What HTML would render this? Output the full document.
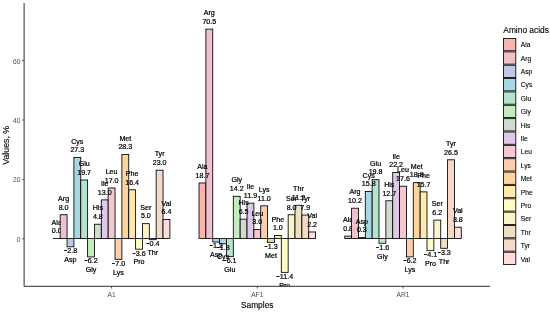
<!DOCTYPE html>
<html><head><meta charset="utf-8"><title>Amino acids</title>
<style>
html,body{margin:0;padding:0;background:#fff;}
body{width:550px;height:312px;overflow:hidden;}
svg{display:block;}
text{font-family:"Liberation Sans",Arial,Helvetica,sans-serif;}
.lab{font-size:7.1px;fill:#000;text-anchor:middle;stroke:#000;stroke-width:0.22px;}
.mn{font-size:10.5px;}
.tick{font-size:6.7px;fill:#4D4D4D;}
.ttl{font-size:8.4px;fill:#000;stroke:#000;stroke-width:0.12px;}
.leg{font-size:6.7px;fill:#000;stroke:#000;stroke-width:0.1px;}
</style></head>
<body>
<svg width="550" height="312" viewBox="0 0 550 312">
<rect x="0" y="0" width="550" height="312" fill="#FFFFFF"/>
<defs><clipPath id="panel"><rect x="24.4" y="4.2" width="465.6" height="282.2"/></clipPath></defs>
<g clip-path="url(#panel)">
<text class="lab" x="56.75" y="224.60">Ala</text><text class="lab" x="56.75" y="233.30">0.0</text>
<text class="lab" x="348.15" y="222.22">Ala</text><text class="lab" x="348.15" y="230.92">0.8</text>
<path d="M52.89 238.50H60.60" stroke="#000" stroke-width="0.85"/>
<rect x="60.18" y="214.74" width="6.86" height="23.76" fill="#EEC2CA" stroke="#000" stroke-width="0.85"/>
<rect x="67.03" y="238.50" width="6.86" height="8.32" fill="#BECAE4" stroke="#000" stroke-width="0.85"/>
<rect x="73.89" y="157.42" width="6.86" height="81.08" fill="#A8D8E4" stroke="#000" stroke-width="0.85"/>
<rect x="80.75" y="179.99" width="6.86" height="58.51" fill="#B4E4CC" stroke="#000" stroke-width="0.85"/>
<rect x="87.60" y="238.50" width="6.86" height="18.41" fill="#C4ECC0" stroke="#000" stroke-width="0.85"/>
<rect x="94.46" y="224.24" width="6.86" height="14.26" fill="#D0DCD0" stroke="#000" stroke-width="0.85"/>
<rect x="101.32" y="199.89" width="6.86" height="38.61" fill="#E0C8E8" stroke="#000" stroke-width="0.85"/>
<rect x="108.17" y="188.01" width="6.86" height="50.49" fill="#F4C8D0" stroke="#000" stroke-width="0.85"/>
<rect x="115.03" y="238.50" width="6.86" height="20.79" fill="#FDCDB0" stroke="#000" stroke-width="0.85"/>
<rect x="121.88" y="154.45" width="6.86" height="84.05" fill="#FDD59C" stroke="#000" stroke-width="0.85"/>
<rect x="128.74" y="189.79" width="6.86" height="48.71" fill="#FEE8AC" stroke="#000" stroke-width="0.85"/>
<rect x="135.60" y="238.50" width="6.86" height="10.69" fill="#FFFBC4" stroke="#000" stroke-width="0.85"/>
<rect x="142.45" y="223.65" width="6.86" height="14.85" fill="#FBF3C8" stroke="#000" stroke-width="0.85"/>
<rect x="149.31" y="238.50" width="6.86" height="1.19" fill="#EEE0C4" stroke="#000" stroke-width="0.85"/>
<rect x="156.17" y="170.19" width="6.86" height="68.31" fill="#F4D8C8" stroke="#000" stroke-width="0.85"/>
<rect x="163.02" y="219.49" width="6.86" height="19.01" fill="#FDDCDC" stroke="#000" stroke-width="0.85"/>
<rect x="199.02" y="182.96" width="6.86" height="55.54" fill="#FBB4AE" stroke="#000" stroke-width="0.85"/>
<rect x="205.88" y="29.11" width="6.86" height="209.39" fill="#EEC2CA" stroke="#000" stroke-width="0.85"/>
<rect x="212.73" y="238.50" width="6.86" height="3.56" fill="#BECAE4" stroke="#000" stroke-width="0.85"/>
<rect x="219.59" y="238.50" width="6.86" height="5.35" fill="#A8D8E4" stroke="#000" stroke-width="0.85"/>
<rect x="226.45" y="238.50" width="6.86" height="18.12" fill="#B4E4CC" stroke="#000" stroke-width="0.85"/>
<rect x="233.30" y="196.33" width="6.86" height="42.17" fill="#C4ECC0" stroke="#000" stroke-width="0.85"/>
<rect x="240.16" y="219.19" width="6.86" height="19.30" fill="#D0DCD0" stroke="#000" stroke-width="0.85"/>
<rect x="247.02" y="203.16" width="6.86" height="35.34" fill="#E0C8E8" stroke="#000" stroke-width="0.85"/>
<rect x="253.87" y="229.59" width="6.86" height="8.91" fill="#F4C8D0" stroke="#000" stroke-width="0.85"/>
<rect x="260.73" y="205.83" width="6.86" height="32.67" fill="#FDCDB0" stroke="#000" stroke-width="0.85"/>
<rect x="267.58" y="238.50" width="6.86" height="3.86" fill="#FDD59C" stroke="#000" stroke-width="0.85"/>
<rect x="274.44" y="235.53" width="6.86" height="2.97" fill="#FEE8AC" stroke="#000" stroke-width="0.85"/>
<rect x="281.30" y="238.50" width="6.86" height="33.86" fill="#FFFBC4" stroke="#000" stroke-width="0.85"/>
<rect x="288.15" y="214.74" width="6.86" height="23.76" fill="#FBF3C8" stroke="#000" stroke-width="0.85"/>
<rect x="295.01" y="205.24" width="6.86" height="33.26" fill="#EEE0C4" stroke="#000" stroke-width="0.85"/>
<rect x="301.87" y="215.04" width="6.86" height="23.46" fill="#F4D8C8" stroke="#000" stroke-width="0.85"/>
<rect x="308.72" y="231.97" width="6.86" height="6.53" fill="#FDDCDC" stroke="#000" stroke-width="0.85"/>
<rect x="344.72" y="236.12" width="6.86" height="2.38" fill="#FBB4AE" stroke="#000" stroke-width="0.85"/>
<rect x="351.58" y="208.21" width="6.86" height="30.29" fill="#EEC2CA" stroke="#000" stroke-width="0.85"/>
<rect x="358.43" y="237.61" width="6.86" height="0.89" fill="#BECAE4" stroke="#000" stroke-width="0.85"/>
<rect x="365.29" y="191.57" width="6.86" height="46.93" fill="#A8D8E4" stroke="#000" stroke-width="0.85"/>
<rect x="372.15" y="179.69" width="6.86" height="58.81" fill="#B4E4CC" stroke="#000" stroke-width="0.85"/>
<rect x="379.00" y="238.50" width="6.86" height="4.75" fill="#C4ECC0" stroke="#000" stroke-width="0.85"/>
<rect x="385.86" y="200.78" width="6.86" height="37.72" fill="#D0DCD0" stroke="#000" stroke-width="0.85"/>
<rect x="392.72" y="172.57" width="6.86" height="65.93" fill="#E0C8E8" stroke="#000" stroke-width="0.85"/>
<rect x="399.57" y="186.23" width="6.86" height="52.27" fill="#F4C8D0" stroke="#000" stroke-width="0.85"/>
<rect x="406.43" y="238.50" width="6.86" height="18.41" fill="#FDCDB0" stroke="#000" stroke-width="0.85"/>
<rect x="413.28" y="182.66" width="6.86" height="55.84" fill="#FDD59C" stroke="#000" stroke-width="0.85"/>
<rect x="420.14" y="191.87" width="6.86" height="46.63" fill="#FEE8AC" stroke="#000" stroke-width="0.85"/>
<rect x="427.00" y="238.50" width="6.86" height="12.18" fill="#FFFBC4" stroke="#000" stroke-width="0.85"/>
<rect x="433.85" y="220.09" width="6.86" height="18.41" fill="#FBF3C8" stroke="#000" stroke-width="0.85"/>
<rect x="440.71" y="238.50" width="6.86" height="9.80" fill="#EEE0C4" stroke="#000" stroke-width="0.85"/>
<rect x="447.57" y="159.80" width="6.86" height="78.70" fill="#F4D8C8" stroke="#000" stroke-width="0.85"/>
<rect x="454.42" y="227.21" width="6.86" height="11.29" fill="#FDDCDC" stroke="#000" stroke-width="0.85"/>
<text class="lab" x="63.60" y="200.84">Arg</text><text class="lab" x="63.60" y="209.54">8.0</text>
<text class="lab" x="70.46" y="262.12">Asp</text><text class="lab" x="70.46" y="253.22"><tspan class="mn">-</tspan>2.8</text>
<text class="lab" x="77.32" y="143.52">Cys</text><text class="lab" x="77.32" y="152.22">27.3</text>
<text class="lab" x="84.17" y="166.09">Glu</text><text class="lab" x="84.17" y="174.79">19.7</text>
<text class="lab" x="91.03" y="272.21">Gly</text><text class="lab" x="91.03" y="263.31"><tspan class="mn">-</tspan>6.2</text>
<text class="lab" x="97.89" y="210.34">His</text><text class="lab" x="97.89" y="219.04">4.8</text>
<text class="lab" x="104.74" y="185.99">Ile</text><text class="lab" x="104.74" y="194.69">13.0</text>
<text class="lab" x="111.60" y="174.11">Leu</text><text class="lab" x="111.60" y="182.81">17.0</text>
<text class="lab" x="118.46" y="274.59">Lys</text><text class="lab" x="118.46" y="265.69"><tspan class="mn">-</tspan>7.0</text>
<text class="lab" x="125.31" y="140.55">Met</text><text class="lab" x="125.31" y="149.25">28.3</text>
<text class="lab" x="132.17" y="175.89">Phe</text><text class="lab" x="132.17" y="184.59">16.4</text>
<text class="lab" x="139.03" y="264.49">Pro</text><text class="lab" x="139.03" y="255.59"><tspan class="mn">-</tspan>3.6</text>
<text class="lab" x="145.88" y="209.75">Ser</text><text class="lab" x="145.88" y="218.45">5.0</text>
<text class="lab" x="152.74" y="254.99">Thr</text><text class="lab" x="152.74" y="246.09"><tspan class="mn">-</tspan>0.4</text>
<text class="lab" x="159.60" y="156.29">Tyr</text><text class="lab" x="159.60" y="164.99">23.0</text>
<text class="lab" x="166.45" y="205.59">Val</text><text class="lab" x="166.45" y="214.29">6.4</text>
<text class="lab" x="202.45" y="169.06">Ala</text><text class="lab" x="202.45" y="177.76">18.7</text>
<text class="lab" x="209.30" y="15.21">Arg</text><text class="lab" x="209.30" y="23.91">70.5</text>
<text class="lab" x="216.16" y="257.36">Asp</text><text class="lab" x="216.16" y="248.46"><tspan class="mn">-</tspan>1.2</text>
<text class="lab" x="223.02" y="259.15">Cys</text><text class="lab" x="223.02" y="250.25"><tspan class="mn">-</tspan>1.8</text>
<text class="lab" x="229.87" y="271.92">Glu</text><text class="lab" x="229.87" y="263.02"><tspan class="mn">-</tspan>6.1</text>
<text class="lab" x="236.73" y="182.43">Gly</text><text class="lab" x="236.73" y="191.13">14.2</text>
<text class="lab" x="243.59" y="205.29">His</text><text class="lab" x="243.59" y="214.00">6.5</text>
<text class="lab" x="250.44" y="189.26">Ile</text><text class="lab" x="250.44" y="197.96">11.9</text>
<text class="lab" x="257.30" y="215.69">Leu</text><text class="lab" x="257.30" y="224.39">3.0</text>
<text class="lab" x="264.16" y="191.93">Lys</text><text class="lab" x="264.16" y="200.63">11.0</text>
<text class="lab" x="271.01" y="257.66">Met</text><text class="lab" x="271.01" y="248.76"><tspan class="mn">-</tspan>1.3</text>
<text class="lab" x="277.87" y="221.63">Phe</text><text class="lab" x="277.87" y="230.33">1.0</text>
<text class="lab" x="284.73" y="287.66">Pro</text><text class="lab" x="284.73" y="278.76"><tspan class="mn">-</tspan>11.4</text>
<text class="lab" x="291.58" y="200.84">Ser</text><text class="lab" x="291.58" y="209.54">8.0</text>
<text class="lab" x="298.44" y="191.34">Thr</text><text class="lab" x="298.44" y="200.04">11.2</text>
<text class="lab" x="305.30" y="201.14">Tyr</text><text class="lab" x="305.30" y="209.84">7.9</text>
<text class="lab" x="312.15" y="218.07">Val</text><text class="lab" x="312.15" y="226.77">2.2</text>
<text class="lab" x="355.00" y="194.31">Arg</text><text class="lab" x="355.00" y="203.01">10.2</text>
<text class="lab" x="361.86" y="223.71">Asp</text><text class="lab" x="361.86" y="232.41">0.3</text>
<text class="lab" x="368.72" y="177.67">Cys</text><text class="lab" x="368.72" y="186.37">15.8</text>
<text class="lab" x="375.57" y="165.79">Glu</text><text class="lab" x="375.57" y="174.49">19.8</text>
<text class="lab" x="382.43" y="258.55">Gly</text><text class="lab" x="382.43" y="249.65"><tspan class="mn">-</tspan>1.6</text>
<text class="lab" x="389.29" y="186.88">His</text><text class="lab" x="389.29" y="195.58">12.7</text>
<text class="lab" x="396.14" y="158.67">Ile</text><text class="lab" x="396.14" y="167.37">22.2</text>
<text class="lab" x="403.00" y="172.33">Leu</text><text class="lab" x="403.00" y="181.03">17.6</text>
<text class="lab" x="409.86" y="272.21">Lys</text><text class="lab" x="409.86" y="263.31"><tspan class="mn">-</tspan>6.2</text>
<text class="lab" x="416.71" y="168.76">Met</text><text class="lab" x="416.71" y="177.46">18.8</text>
<text class="lab" x="423.57" y="177.97">Phe</text><text class="lab" x="423.57" y="186.67">15.7</text>
<text class="lab" x="430.43" y="265.98">Pro</text><text class="lab" x="430.43" y="257.08"><tspan class="mn">-</tspan>4.1</text>
<text class="lab" x="437.28" y="206.19">Ser</text><text class="lab" x="437.28" y="214.89">6.2</text>
<text class="lab" x="444.14" y="263.60">Thr</text><text class="lab" x="444.14" y="254.70"><tspan class="mn">-</tspan>3.3</text>
<text class="lab" x="451.00" y="145.90">Tyr</text><text class="lab" x="451.00" y="154.60">26.5</text>
<text class="lab" x="457.85" y="213.31">Val</text><text class="lab" x="457.85" y="222.01">3.8</text>
</g>
<path d="M24.10 3.00V286.30H490.00" fill="none" stroke="#222" stroke-width="0.95"/>
<path d="M22.30 238.80H24.40" stroke="#333" stroke-width="0.85"/>
<text class="tick" text-anchor="end" x="20.50" y="241.70">0</text>
<path d="M22.30 179.40H24.40" stroke="#333" stroke-width="0.85"/>
<text class="tick" text-anchor="end" x="20.50" y="182.30">20</text>
<path d="M22.30 120.00H24.40" stroke="#333" stroke-width="0.85"/>
<text class="tick" text-anchor="end" x="20.50" y="122.90">40</text>
<path d="M22.30 60.60H24.40" stroke="#333" stroke-width="0.85"/>
<text class="tick" text-anchor="end" x="20.50" y="63.50">60</text>
<path d="M111.60 286.40V288.50" stroke="#333" stroke-width="0.85"/>
<text class="tick" text-anchor="middle" x="111.60" y="297.20">A1</text>
<path d="M257.30 286.40V288.50" stroke="#333" stroke-width="0.85"/>
<text class="tick" text-anchor="middle" x="257.30" y="297.20">AF1</text>
<path d="M403.00 286.40V288.50" stroke="#333" stroke-width="0.85"/>
<text class="tick" text-anchor="middle" x="403.00" y="297.20">AR1</text>
<text class="ttl" text-anchor="middle" x="257.20" y="307.6">Samples</text>
<text class="ttl" text-anchor="middle" transform="translate(8.7 145.30) rotate(-90)" style="font-size:8.8px">Values, %</text>
<text class="ttl" x="503.3" y="32.6">Amino acids</text>
<rect x="503.54" y="38.50" width="12.28" height="12.28" fill="#FBB4AE" stroke="#000" stroke-width="0.85"/>
<text class="leg" x="520.76" y="47.30">Ala</text>
<rect x="503.54" y="51.86" width="12.28" height="12.28" fill="#EEC2CA" stroke="#000" stroke-width="0.85"/>
<text class="leg" x="520.76" y="60.69">Arg</text>
<rect x="503.54" y="65.22" width="12.28" height="12.28" fill="#BECAE4" stroke="#000" stroke-width="0.85"/>
<text class="leg" x="520.76" y="74.08">Asp</text>
<rect x="503.54" y="78.57" width="12.28" height="12.28" fill="#A8D8E4" stroke="#000" stroke-width="0.85"/>
<text class="leg" x="520.76" y="87.47">Cys</text>
<rect x="503.54" y="91.93" width="12.28" height="12.28" fill="#B4E4CC" stroke="#000" stroke-width="0.85"/>
<text class="leg" x="520.76" y="100.86">Glu</text>
<rect x="503.54" y="105.29" width="12.28" height="12.28" fill="#C4ECC0" stroke="#000" stroke-width="0.85"/>
<text class="leg" x="520.76" y="114.25">Gly</text>
<rect x="503.54" y="118.65" width="12.28" height="12.28" fill="#D0DCD0" stroke="#000" stroke-width="0.85"/>
<text class="leg" x="520.76" y="127.64">His</text>
<rect x="503.54" y="132.01" width="12.28" height="12.28" fill="#E0C8E8" stroke="#000" stroke-width="0.85"/>
<text class="leg" x="520.76" y="141.03">Ile</text>
<rect x="503.54" y="145.36" width="12.28" height="12.28" fill="#F4C8D0" stroke="#000" stroke-width="0.85"/>
<text class="leg" x="520.76" y="154.42">Leu</text>
<rect x="503.54" y="158.72" width="12.28" height="12.28" fill="#FDCDB0" stroke="#000" stroke-width="0.85"/>
<text class="leg" x="520.76" y="167.81">Lys</text>
<rect x="503.54" y="172.08" width="12.28" height="12.28" fill="#FDD59C" stroke="#000" stroke-width="0.85"/>
<text class="leg" x="520.76" y="181.20">Met</text>
<rect x="503.54" y="185.44" width="12.28" height="12.28" fill="#FEE8AC" stroke="#000" stroke-width="0.85"/>
<text class="leg" x="520.76" y="194.59">Phe</text>
<rect x="503.54" y="198.80" width="12.28" height="12.28" fill="#FFFBC4" stroke="#000" stroke-width="0.85"/>
<text class="leg" x="520.76" y="207.98">Pro</text>
<rect x="503.54" y="212.15" width="12.28" height="12.28" fill="#FBF3C8" stroke="#000" stroke-width="0.85"/>
<text class="leg" x="520.76" y="221.37">Ser</text>
<rect x="503.54" y="225.51" width="12.28" height="12.28" fill="#EEE0C4" stroke="#000" stroke-width="0.85"/>
<text class="leg" x="520.76" y="234.76">Thr</text>
<rect x="503.54" y="238.87" width="12.28" height="12.28" fill="#F4D8C8" stroke="#000" stroke-width="0.85"/>
<text class="leg" x="520.76" y="248.15">Tyr</text>
<rect x="503.54" y="252.23" width="12.28" height="12.28" fill="#FDDCDC" stroke="#000" stroke-width="0.85"/>
<text class="leg" x="520.76" y="261.54">Val</text>
</svg>
</body></html>
